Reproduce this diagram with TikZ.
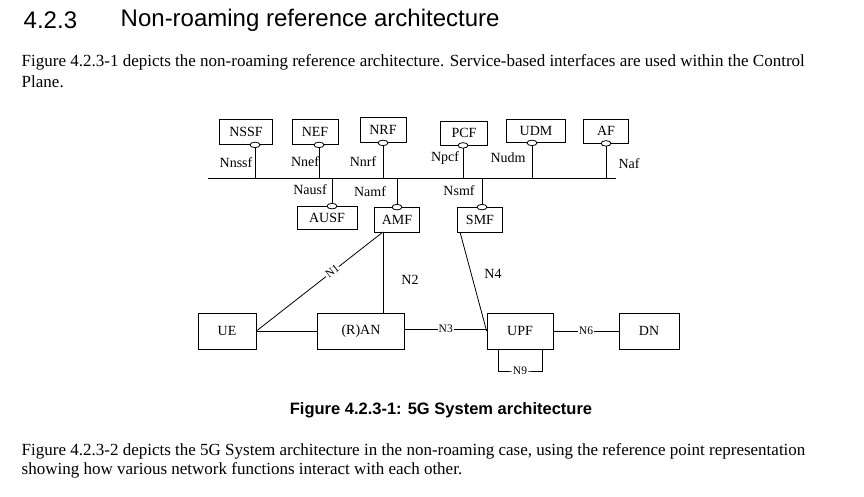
\documentclass[tikz,border=0pt]{standalone}
\usepackage{fontspec}
\setmainfont{Liberation Serif}
\newfontfamily\arial{Liberation Sans}
\usetikzlibrary{positioning,calc,shapes.geometric}
\begin{document}
\begin{tikzpicture}[x=1pt,y=-1pt,line width=0.8pt,
    nf/.style={draw,rectangle,inner sep=0pt,font=\fontsize{14}{14}\selectfont},
    port/.style={draw,fill=white,ellipse,minimum width=10pt,minimum height=5.5pt,inner sep=0pt},
    lbl/.style={font=\fontsize{14}{14}\selectfont},
    tag/.style={fill=white,inner sep=1pt,font=\fontsize{11.5}{11.5}\selectfont}]
    \useasboundingbox (0,0) rectangle (864,496);
    \node[anchor=west,font=\arial\fontsize{24}{24}\selectfont] at (20,20) {4.2.3};
    \node[anchor=west,font=\arial\fontsize{24}{24}\selectfont] at (117,20) {Non-roaming reference architecture};
    \node[anchor=west,font=\fontsize{17}{17}\selectfont] at (18,62) {Figure 4.2.3-1 depicts the non-roaming reference architecture. Service-based interfaces are used within the Control};
    \node[anchor=west,font=\fontsize{17}{17}\selectfont] at (18,82) {Plane.};

    % service based bus
    \coordinate (busl) at (208,178);
    \coordinate (busr) at (616,178);
    \draw (busl) -- (busr);

    \node[nf,minimum width=53pt,minimum height=25pt] (nssf) at (246,132) {NSSF};
    \node[nf,minimum width=46pt,minimum height=25pt] (nef) at (315,132) {NEF};
    \node[nf,minimum width=46pt,minimum height=25pt] (nrf) at (383,130) {NRF};
    \node[nf,minimum width=47pt,minimum height=24pt] (pcf) at (464,133) {PCF};
    \node[nf,minimum width=59pt,minimum height=23pt] (udm) at (536,131) {UDM};
    \node[nf,minimum width=45pt,minimum height=24pt] (af) at (606,131) {AF};

    \node[nf,minimum width=60pt,minimum height=23pt] (ausf) at (327,218) {AUSF};
    \node[nf,minimum width=45pt,minimum height=25pt] (amf) at (397,220) {AMF};
    \node[nf,minimum width=45pt,minimum height=25pt] (smf) at (480,220) {SMF};

    \foreach \n/\x in {nssf/255,nef/319,nrf/383,pcf/463,udm/532,af/606} {
      \draw (\x,178) -- (\x,0 |- \n.south);
      \node[port] (p\n) at (\x,0 |- \n.south) {};
    }
    \foreach \n/\x in {ausf/332,amf/397,smf/482} {
      \draw (\x,178) -- (\x,0 |- \n.north);
      \node[port] (p\n) at (\x,0 |- \n.north) {};
    }

    \node[lbl] at (236,163) {Nnssf};
    \node[lbl] at (305,162) {Nnef};
    \node[lbl] at (363,162) {Nnrf};
    \node[lbl] at (445,158) {Npcf};
    \node[lbl] at (508,158) {Nudm};
    \node[lbl] at (629,164) {Naf};
    \node[lbl] at (310,190) {Nausf};
    \node[lbl] at (370,192) {Namf};
    \node[lbl] at (459,191) {Nsmf};

    % user plane
    \node[nf,minimum width=58pt,minimum height=36pt] (ue) at (227,331) {UE};
    \node[nf,minimum width=87pt,minimum height=36pt] (ran) at (361,331) {(R)AN};
    \node[nf,minimum width=66pt,minimum height=36pt] (upf) at (520,331) {UPF};
    \node[nf,minimum width=60pt,minimum height=36pt] (dn) at (649,331) {DN};

    \coordinate (amfb) at (383,232);
    \coordinate (smfb) at (460,232);
    \draw (ue.east) -- (ran.west);
    \draw (ue.east) -- (amfb) node[tag,pos=0.6,sloped] {N1};
    \draw (ran.north -| amfb) -- (amfb);
    \node[lbl] at (410,280) {N2};
    \draw (smfb) -- (upf.west);
    \node[lbl] at (493,274) {N4};
    \draw (ran.east |- 0,329) -- (upf.west |- 0,329) node[tag,midway] {N3};
    \draw (upf.east) -- (dn.west) node[tag,midway] {N6};
    \draw (498,349) |- (520,371) node[tag] {N9} -| (542,349);

    \node[font=\arial\bfseries\fontsize{16.5}{16.5}\selectfont] at (441,410) {Figure 4.2.3-1: 5G System architecture};
    \node[anchor=west,font=\fontsize{17}{17}\selectfont] at (18,451) {Figure 4.2.3-2 depicts the 5G System architecture in the non-roaming case, using the reference point representation};
    \node[anchor=west,font=\fontsize{17}{17}\selectfont] at (18,470) {showing how various network functions interact with each other.};
\end{tikzpicture}
\end{document}
